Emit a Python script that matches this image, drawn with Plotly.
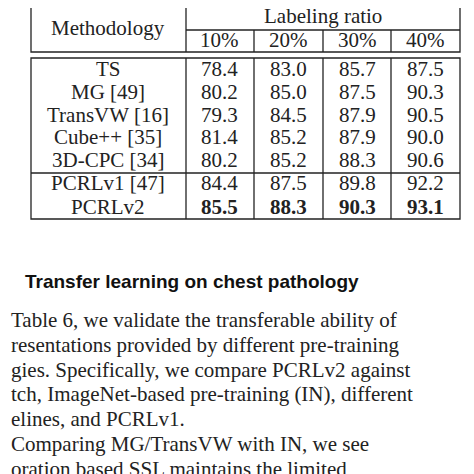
import plotly.graph_objects as go

# DATA
methods = ['TS', 'MG [49]', 'TransVW [16]', 'Cube++ [35]', '3D-CPC [34]', 'PCRLv1 [47]', 'PCRLv2']
ratios = ['10%', '20%', '30%', '40%']
scores = [
    ['78.4', '83.0', '85.7', '87.5'],
    ['80.2', '85.0', '87.5', '90.3'],
    ['79.3', '84.5', '87.9', '90.5'],
    ['81.4', '85.2', '87.9', '90.0'],
    ['80.2', '85.2', '88.3', '90.6'],
    ['84.4', '87.5', '89.8', '92.2'],
    ['85.5', '88.3', '90.3', '93.1'],
]
heading = 'Transfer learning on chest pathology'
para = [
    'Table 6, we validate the transferable ability of',
    'resentations provided by different pre-training',
    'gies. Specifically, we compare PCRLv2 against',
    'tch, ImageNet-based pre-training (IN), different',
    'elines, and PCRLv1.',
    'Comparing MG/TransVW with IN, we see',
    'oration based SSL maintains the limited',
]

# LAYOUT (pixel coordinates)
SERIF = 'Liberation Serif'
col_x = [211, 280, 349, 417]
row_y = [61, 84, 107, 129, 152, 175, 199]
L, R = 23, 452
seps = [178, 246, 315, 383]

fig = go.Figure()
shapes = []
line = dict(color='#222', width=1.3)
shapes.append(dict(type='rect', x0=L, x1=R, y0=-5, y1=44, line=line))
shapes.append(dict(type='line', x0=seps[0], x1=R, y0=22, y1=22, line=line))
shapes.append(dict(type='line', x0=seps[0], x1=seps[0], y0=-5, y1=44, line=line))
for s in seps[1:]:
    shapes.append(dict(type='line', x0=s, x1=s, y0=22, y1=44, line=line))
shapes.append(dict(type='rect', x0=L, x1=R, y0=50, y1=211, line=line))
shapes.append(dict(type='line', x0=L, x1=R, y0=165, y1=165, line=line))
for s in seps:
    shapes.append(dict(type='line', x0=s, x1=s, y0=50, y1=211, line=line))

ann = []
def txt(x, y, t, size=21, fam=SERIF, anchor='center', color='#222'):
    ann.append(dict(x=x, y=y, text=t, showarrow=False, xanchor=anchor, yanchor='middle',
                    font=dict(family=fam, size=size, color=color)))

txt(100, 20, 'Methodology')
txt(315, 8, 'Labeling ratio')
for cx, r in zip(col_x, ratios):
    txt(cx, 32, r)
for i, (m, row) in enumerate(zip(methods, scores)):
    txt(100, row_y[i], m)
    for cx, v in zip(col_x, row):
        txt(cx, row_y[i], '<b>%s</b>' % v if m == 'PCRLv2' else v)

txt(15, 273, '<b>%s</b>' % heading, size=19, fam='Liberation Sans', anchor='left', color='#111')
for i, p in enumerate(para):
    txt(1, 312 + i * 24.8, p, size=21, anchor='left')

fig.update_layout(
    width=474, height=474, margin=dict(l=0, r=0, t=0, b=0),
    paper_bgcolor='white', plot_bgcolor='white', showlegend=False,
    xaxis=dict(range=[0, 474], visible=False, fixedrange=True),
    yaxis=dict(range=[474, 0], visible=False, fixedrange=True),
    shapes=shapes, annotations=ann,
)
fig.write_html('out.html')
